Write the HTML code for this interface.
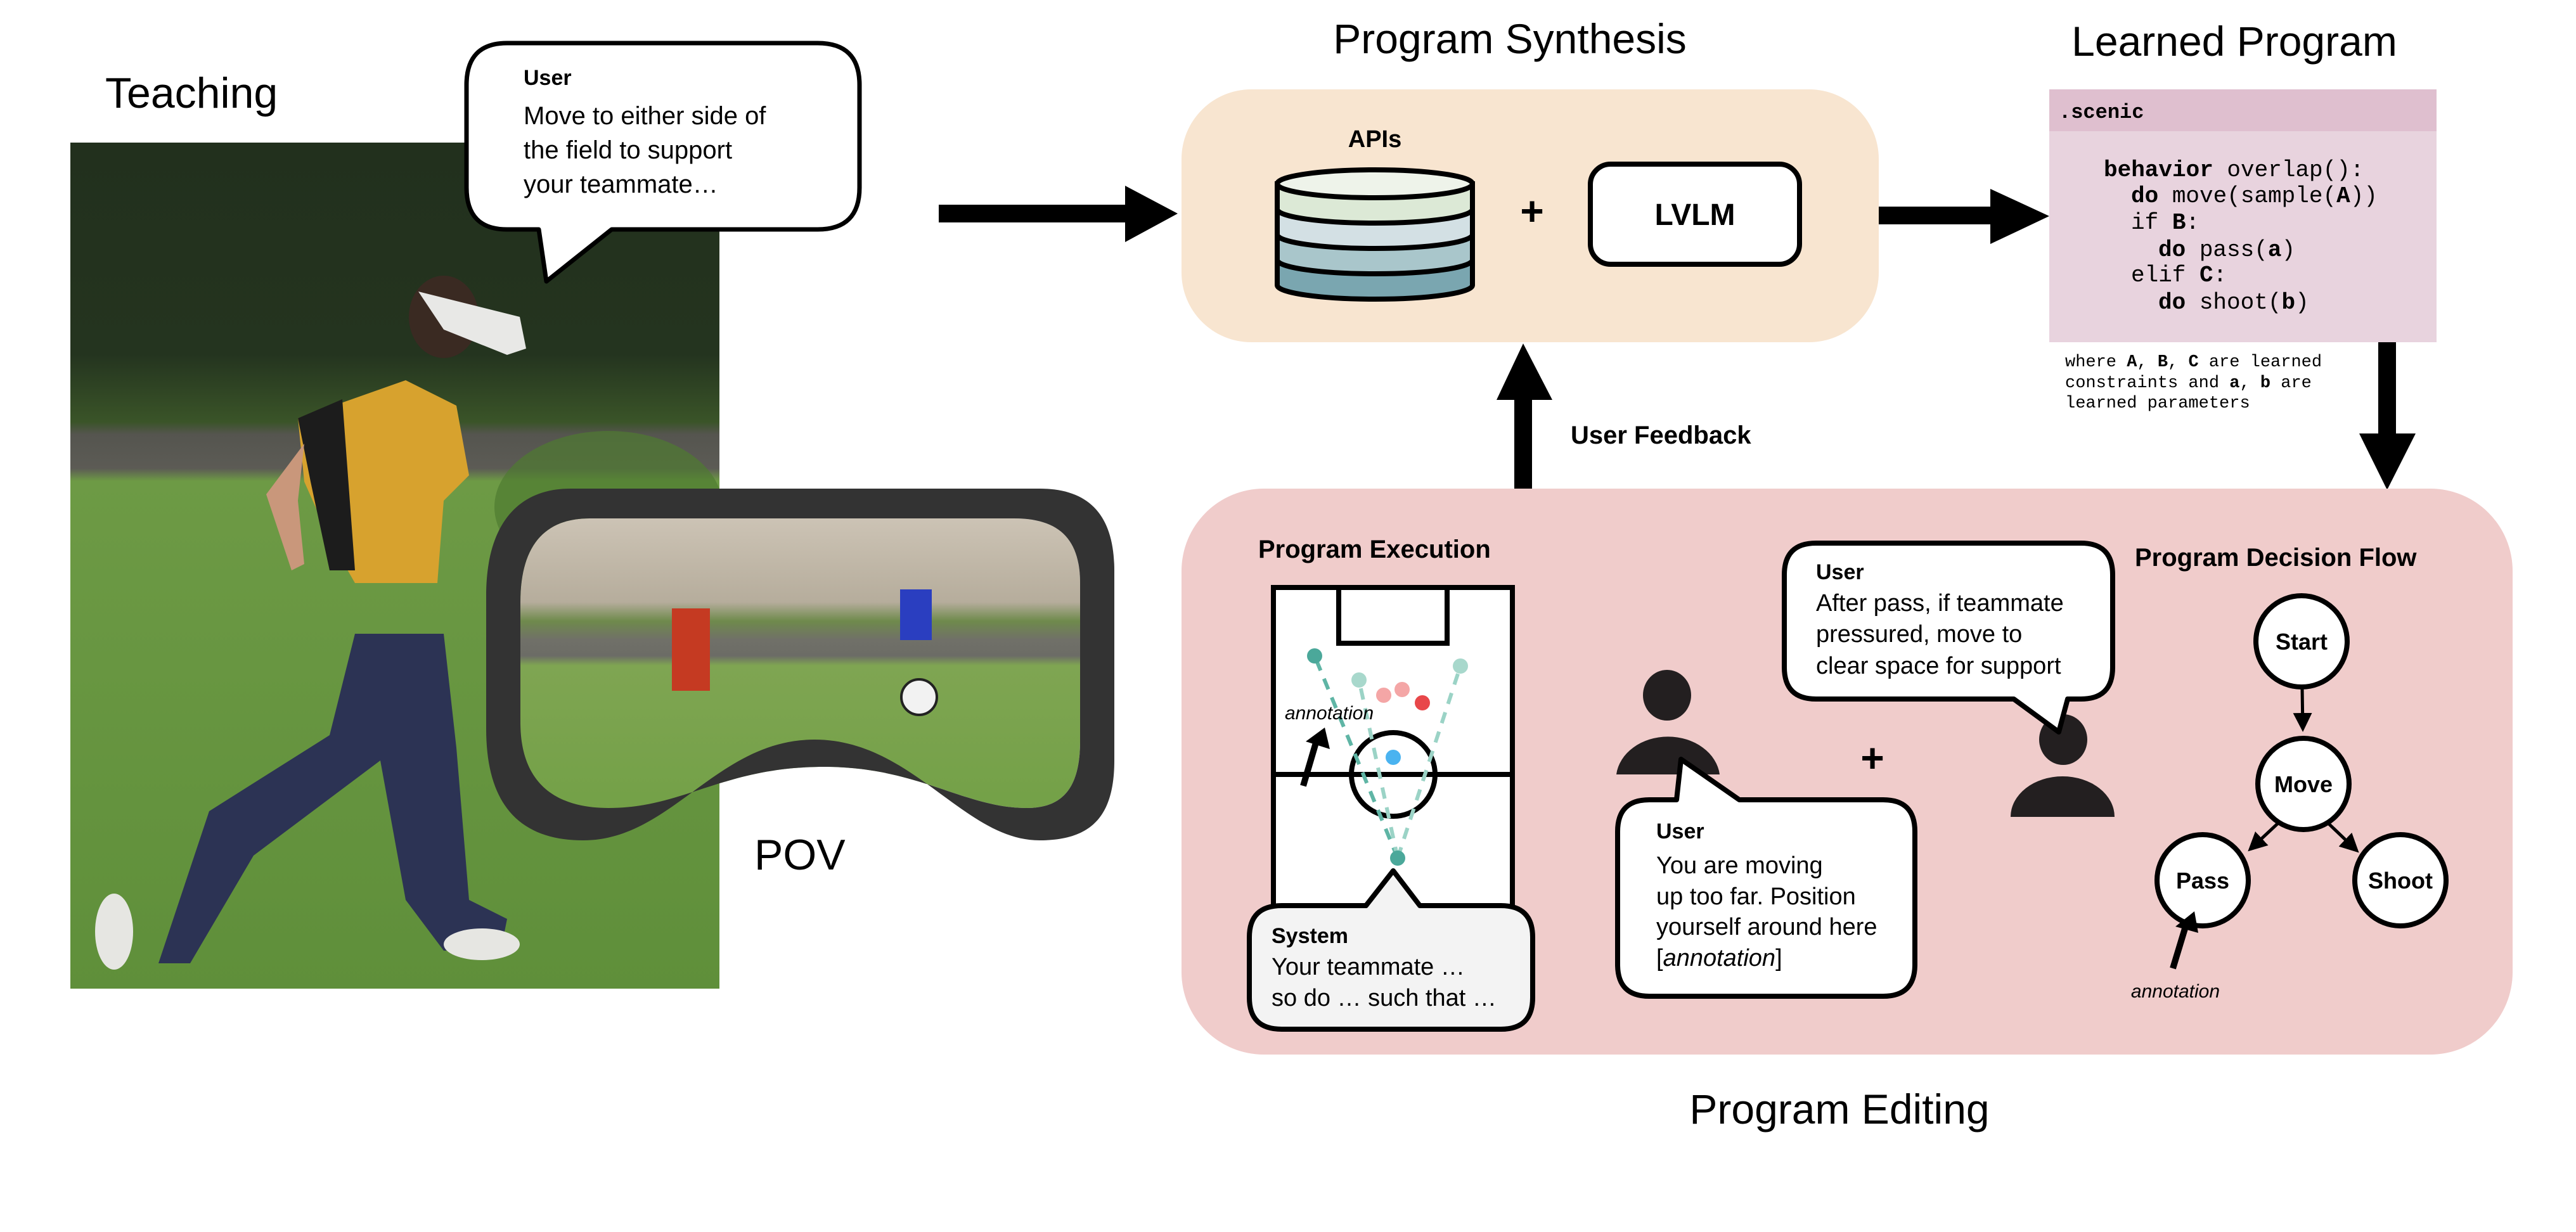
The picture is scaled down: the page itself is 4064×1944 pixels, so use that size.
<!DOCTYPE html>
<html><head><meta charset="utf-8"><style>
html,body{margin:0;padding:0;background:#fff}
svg{display:block}
text{font-family:"Liberation Sans",sans-serif}
text.m,.m text,.m tspan{font-family:"Liberation Mono",monospace}
</style></head><body>
<svg width="4064" height="1944" viewBox="0 0 4064 1944" xmlns="http://www.w3.org/2000/svg">
<defs>
<linearGradient id="ph" x1="0" y1="0" x2="0" y2="1">
<stop offset="0" stop-color="#22301d"/><stop offset="0.25" stop-color="#24341f"/><stop offset="0.33" stop-color="#3a5428"/><stop offset="0.345" stop-color="#55554f"/><stop offset="0.385" stop-color="#5c5b55"/><stop offset="0.4" stop-color="#6d9a45"/><stop offset="1" stop-color="#5f8f3a"/>
</linearGradient>
<linearGradient id="pv" x1="0" y1="0" x2="0" y2="1">
<stop offset="0" stop-color="#cfc6b8"/><stop offset="0.3" stop-color="#b6ad9c"/><stop offset="0.36" stop-color="#6f8a4c"/><stop offset="0.42" stop-color="#707068"/><stop offset="0.47" stop-color="#6c6c66"/><stop offset="0.5" stop-color="#7fa552"/><stop offset="1" stop-color="#72a046"/>
</linearGradient>
<clipPath id="gin"><path d="M930 818 L1600 818 C1670 818 1704 850 1704 920 L1704 1170 C1704 1245 1675 1275 1620 1275 C1520 1275 1450 1210 1300 1210 C1140 1210 1080 1275 960 1275 C870 1275 821 1230 821 1140 L821 950 C821 860 860 818 930 818 Z"/></clipPath>
<marker id="ah" markerWidth="6" markerHeight="6" refX="5" refY="3" orient="auto" markerUnits="strokeWidth"><path d="M0,0 L6,3 L0,6 Z" fill="#000"/></marker>
</defs>

<!-- Teaching -->
<text x="166" y="170" font-size="68">Teaching</text>
<rect x="111" y="225" width="1024" height="1335" fill="url(#ph)"/>
<ellipse cx="960" cy="800" rx="180" ry="120" fill="#4e7a30" opacity="0.7"/>
<!-- person -->
<path d="M250 1520 L330 1280 L520 1160 L560 1000 L700 1000 L720 1180 L740 1420 L800 1450 L790 1500 L700 1500 L640 1420 L600 1200 L400 1350 L300 1520 Z" fill="#2c3354"/>
<path d="M470 660 L640 600 L720 640 L740 750 L700 790 L690 920 L560 920 L520 850 L480 760 Z" fill="#d7a22e"/>
<path d="M470 660 L540 630 L560 900 L520 900 L490 760 Z" fill="#1c1c1c"/>
<path d="M480 700 L420 780 L460 900 L480 890 L470 790 Z" fill="#c9977b"/>
<ellipse cx="700" cy="500" rx="55" ry="65" fill="#3a2a22"/>
<path d="M660 460 L820 500 L830 550 L800 560 L700 520 Z" fill="#e8e8e6"/>
<ellipse cx="180" cy="1470" rx="30" ry="60" fill="#e6e6e2"/>
<ellipse cx="760" cy="1490" rx="60" ry="25" fill="#e6e6e2"/>

<!-- POV goggles -->
<rect x="800" y="800" width="920" height="500" fill="url(#pv)" clip-path="url(#gin)"/>
<g clip-path="url(#gin)">
<rect x="1060" y="960" width="60" height="130" fill="#c53a22"/>
<rect x="1420" y="930" width="50" height="80" fill="#2a3ec0"/>
<circle cx="1450" cy="1100" r="28" fill="#f2f2f2" stroke="#222" stroke-width="4"/>
</g>
<path fill-rule="evenodd" fill="#333" d="M900 771 L1640 771 C1720 771 1758 815 1758 900 L1758 1200 C1758 1290 1720 1326 1640 1326 C1520 1326 1440 1167 1285 1167 C1130 1167 1060 1326 920 1326 C820 1326 767 1270 767 1150 L767 940 C767 830 815 771 900 771 Z M930 818 L1600 818 C1670 818 1704 850 1704 920 L1704 1170 C1704 1245 1675 1275 1620 1275 C1520 1275 1450 1210 1300 1210 C1140 1210 1080 1275 960 1275 C870 1275 821 1230 821 1140 L821 950 C821 860 860 818 930 818 Z"/>
<text x="1190" y="1372" font-size="68">POV</text>

<!-- teaching bubble -->
<path d="M800 68 L1290 68 Q1356 68 1356 134 L1356 296 Q1356 362 1290 362 L965 362 L862 444 L850 362 L800 362 Q736 362 736 296 L736 134 Q736 68 800 68 Z" fill="#fff" stroke="#000" stroke-width="7" stroke-linejoin="round"/>
<text x="826" y="134" font-size="34" font-weight="bold">User</text>
<text x="826" y="196" font-size="40">Move to either side of</text>
<text x="826" y="250" font-size="40">the field to support</text>
<text x="826" y="304" font-size="40">your teammate…</text>

<rect x="1481" y="323" width="300" height="28" fill="#000"/>
<path d="M1775 293 L1858 337 L1775 382 Z" fill="#000"/>

<!-- Program Synthesis -->
<text x="2382" y="84" font-size="66" text-anchor="middle">Program Synthesis</text>
<rect x="1864" y="141" width="1100" height="399" rx="110" fill="#f8e5d0"/>
<text x="2169" y="232" font-size="38" font-weight="bold" text-anchor="middle">APIs</text>
<g stroke="#000" stroke-width="8">
<path d="M2015 290 L2015 450 A154 22 0 0 0 2323 450 L2323 290 Z" fill="#7aa6b0"/>
<path d="M2015 290 L2015 410 A154 22 0 0 0 2323 410 L2323 290 Z" fill="#a9c6cb"/>
<path d="M2015 290 L2015 370 A154 22 0 0 0 2323 370 L2323 290 Z" fill="#d3e0e4"/>
<path d="M2015 290 L2015 330 A154 22 0 0 0 2323 330 L2323 290 Z" fill="#dce9d6"/>
<ellipse cx="2169" cy="290" rx="154" ry="22" fill="#eef3ea"/>
</g>
<text x="2417" y="355" font-size="64" font-weight="bold" text-anchor="middle">+</text>
<rect x="2509" y="259" width="330" height="158" rx="32" fill="#fff" stroke="#000" stroke-width="8"/>
<text x="2674" y="355" font-size="48" font-weight="bold" text-anchor="middle">LVLM</text>

<rect x="2964" y="326" width="180" height="28" fill="#000"/>
<path d="M3140 298 L3233 341 L3140 385 Z" fill="#000"/>

<!-- Learned Program -->
<text x="3525" y="88" font-size="66" text-anchor="middle">Learned Program</text>
<rect x="3233" y="141" width="611" height="399" fill="#e8d3de"/>
<rect x="3233" y="141" width="611" height="66" fill="#dfbfcf"/>
<text class="m" x="3248" y="186" font-size="32" font-weight="bold">.scenic</text>
<g class="m" font-size="36">
<text x="3319" y="278"><tspan font-weight="bold">behavior</tspan> overlap():</text>
<text x="3362" y="319"><tspan font-weight="bold">do</tspan> move(sample(<tspan font-weight="bold">A</tspan>))</text>
<text x="3362" y="361">if <tspan font-weight="bold">B</tspan>:</text>
<text x="3405" y="404"><tspan font-weight="bold">do</tspan> pass(<tspan font-weight="bold">a</tspan>)</text>
<text x="3362" y="444">elif <tspan font-weight="bold">C</tspan>:</text>
<text x="3405" y="487"><tspan font-weight="bold">do</tspan> shoot(<tspan font-weight="bold">b</tspan>)</text>
</g>
<g class="m" font-size="27">
<text x="3258" y="578">where <tspan font-weight="bold">A</tspan>, <tspan font-weight="bold">B</tspan>, <tspan font-weight="bold">C</tspan> are learned</text>
<text x="3258" y="611">constraints and <tspan font-weight="bold">a</tspan>, <tspan font-weight="bold">b</tspan> are</text>
<text x="3258" y="643">learned parameters</text>
</g>
<rect x="3752" y="540" width="28" height="150" fill="#000"/>
<path d="M3722 684 L3811 684 L3766 773 Z" fill="#000"/>

<rect x="2389" y="625" width="28" height="152" fill="#000"/>
<path d="M2361 631 L2449 631 L2403 542 Z" fill="#000"/>
<text x="2478" y="700" font-size="40" font-weight="bold">User Feedback</text>

<!-- Program Editing -->
<rect x="1864" y="771" width="2100" height="893" rx="130" fill="#f0cccb"/>
<text x="2902" y="1773" font-size="66" text-anchor="middle">Program Editing</text>

<text x="1985" y="880" font-size="40" font-weight="bold">Program Execution</text>
<rect x="2009" y="927" width="377" height="540" fill="#fff" stroke="#000" stroke-width="8"/>
<rect x="2112" y="927" width="171" height="88" fill="none" stroke="#000" stroke-width="8"/>
<line x1="2009" y1="1222" x2="2386" y2="1222" stroke="#000" stroke-width="8"/>
<circle cx="2198" cy="1222" r="66" fill="none" stroke="#000" stroke-width="8"/>
<g stroke="#5fb5a5" stroke-width="6" stroke-dasharray="18 14">
<line x1="2205" y1="1354" x2="2074" y2="1035"/>
<line x1="2205" y1="1354" x2="2144" y2="1073" stroke="#9bd3c6"/>
<line x1="2205" y1="1354" x2="2304" y2="1051" stroke="#9bd3c6"/>
</g>
<circle cx="2074" cy="1035" r="12" fill="#4ba89a"/>
<circle cx="2304" cy="1051" r="12" fill="#a8d8cc"/>
<circle cx="2144" cy="1073" r="12" fill="#a8d8cc"/>
<circle cx="2183" cy="1097" r="12" fill="#f4a6a6"/>
<circle cx="2212" cy="1088" r="12" fill="#f4a6a6"/>
<circle cx="2244" cy="1109" r="12" fill="#e8474a"/>
<circle cx="2198" cy="1195" r="12" fill="#4ab3f0"/>
<circle cx="2205" cy="1354" r="12" fill="#4ba89a"/>
<text x="2027" y="1135" font-size="30" font-style="italic">annotation</text>
<line x1="2056" y1="1240" x2="2076" y2="1172" stroke="#000" stroke-width="10"/>
<path d="M2060 1170 L2090 1148 L2098 1182 Z" fill="#000"/>

<path d="M2022 1429 L2155 1429 L2198 1374 L2240 1429 L2368 1429 Q2418 1429 2418 1479 L2418 1574 Q2418 1624 2368 1624 L2022 1624 Q1971 1624 1971 1574 L1971 1479 Q1971 1429 2022 1429 Z" fill="#f3f3f3" stroke="#000" stroke-width="8" stroke-linejoin="round"/>
<text x="2006" y="1488" font-size="34" font-weight="bold">System</text>
<text x="2006" y="1538" font-size="38">Your teammate …</text>
<text x="2006" y="1587" font-size="38">so do … such that …</text>

<ellipse cx="2630" cy="1097" rx="38" ry="40" fill="#231f20"/>
<path d="M2550 1222 A82 67 0 0 1 2713 1222 Z" fill="#231f20"/>
<path d="M2612 1262 L2645 1262 L2652 1198 L2744 1262 L2971 1262 Q3021 1262 3021 1312 L3021 1522 Q3021 1572 2971 1572 L2602 1572 Q2552 1572 2552 1522 L2552 1312 Q2552 1262 2602 1262 Z" fill="#fff" stroke="#000" stroke-width="8" stroke-linejoin="round"/>
<text x="2613" y="1323" font-size="34" font-weight="bold">User</text>
<text x="2613" y="1378" font-size="38">You are moving</text>
<text x="2613" y="1427" font-size="38">up too far. Position</text>
<text x="2613" y="1475" font-size="38">yourself around here</text>
<text x="2613" y="1524" font-size="38">[<tspan font-style="italic">annotation</tspan>]</text>

<text x="2954" y="1218" font-size="64" font-weight="bold" text-anchor="middle">+</text>

<ellipse cx="3255" cy="1167" rx="38" ry="40" fill="#231f20"/>
<path d="M3172 1289 A82 64 0 0 1 3336 1289 Z" fill="#231f20"/>
<path d="M2865 857 L3283 857 Q3333 857 3333 907 L3333 1053 Q3333 1103 3283 1103 L3262 1103 L3248 1155 L3177 1103 L2865 1103 Q2815 1103 2815 1053 L2815 907 Q2815 857 2865 857 Z" fill="#fff" stroke="#000" stroke-width="8" stroke-linejoin="round"/>
<text x="2865" y="914" font-size="34" font-weight="bold">User</text>
<text x="2865" y="964" font-size="38">After pass, if teammate</text>
<text x="2865" y="1013" font-size="38">pressured, move to</text>
<text x="2865" y="1063" font-size="38">clear space for support</text>

<text x="3368" y="893" font-size="40" font-weight="bold">Program Decision Flow</text>
<g stroke="#000" stroke-width="5" fill="none">
<line x1="3632" y1="1086" x2="3633" y2="1150" marker-end="url(#ah)"/>
<line x1="3595" y1="1298" x2="3550" y2="1340" marker-end="url(#ah)"/>
<line x1="3672" y1="1298" x2="3718" y2="1342" marker-end="url(#ah)"/>
</g>
<g fill="#fff" stroke="#000" stroke-width="8">
<circle cx="3631" cy="1012" r="72"/>
<circle cx="3634" cy="1237" r="72"/>
<circle cx="3475" cy="1389" r="72"/>
<circle cx="3787" cy="1389" r="72"/>
</g>
<g font-size="36" font-weight="bold" text-anchor="middle">
<text x="3631" y="1025">Start</text>
<text x="3634" y="1250">Move</text>
<text x="3475" y="1402">Pass</text>
<text x="3787" y="1402">Shoot</text>
</g>
<line x1="3428" y1="1528" x2="3448" y2="1462" stroke="#000" stroke-width="10"/>
<path d="M3432 1462 L3462 1438 L3468 1472 Z" fill="#000"/>
<text x="3432" y="1574" font-size="30" font-style="italic" text-anchor="middle">annotation</text>
</svg>
</body></html>
